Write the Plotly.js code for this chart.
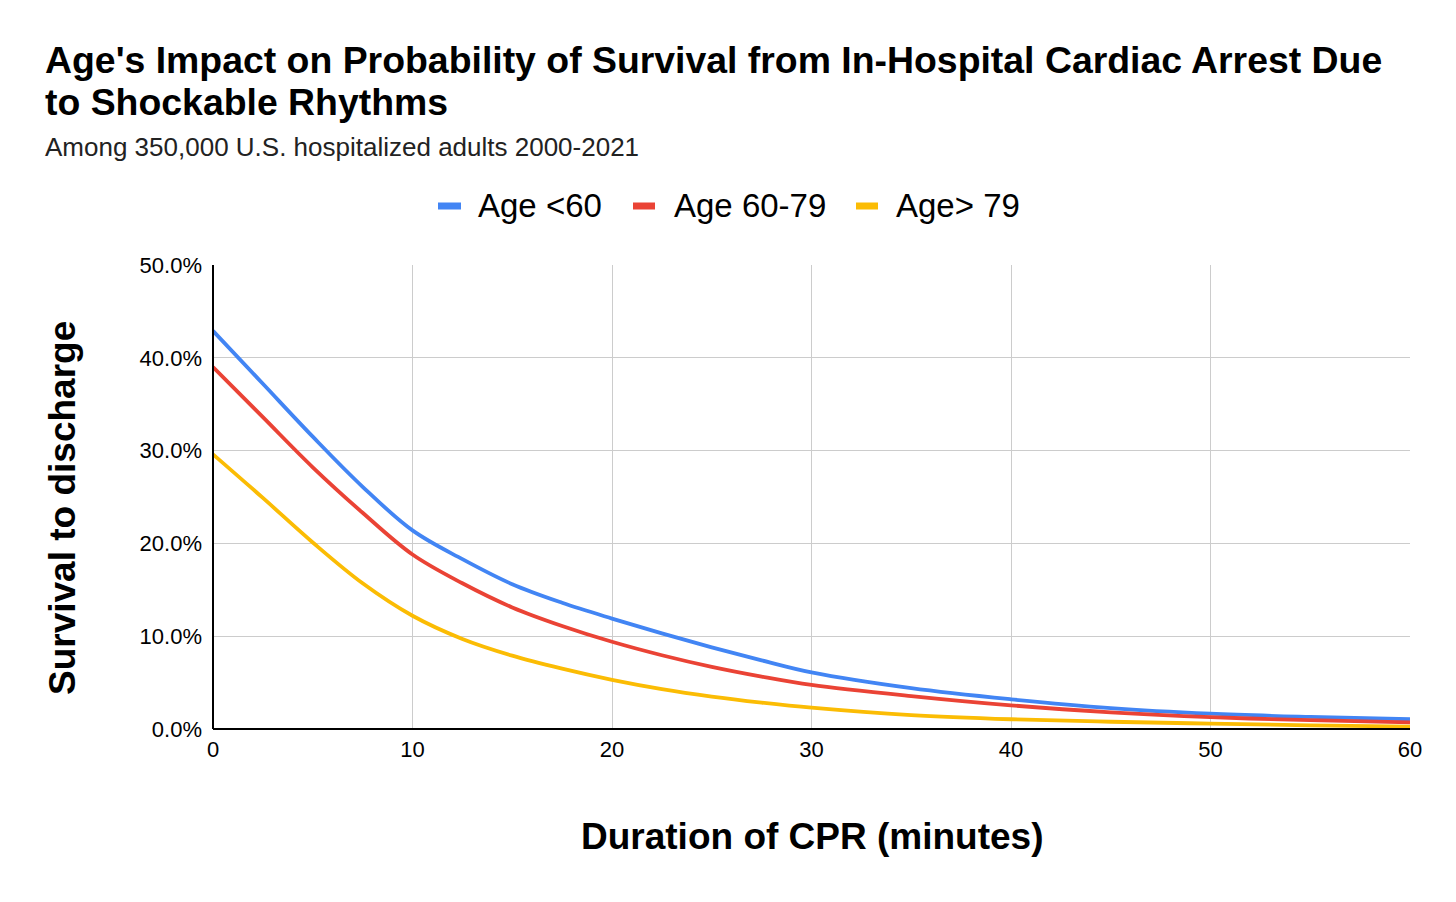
<!DOCTYPE html>
<html>
<head>
<meta charset="utf-8">
<script src="https://cdn.plot.ly/plotly-3.0.1.min.js"></script>
<style>
  html, body { margin: 0; padding: 0; background: #ffffff; }
  #chart { width: 1456px; height: 902px; }
</style>
</head>
<body>
<div id="chart"></div>
<script>
// Duration of CPR (minutes)
const minutes = [0, 2.5, 5, 7.5, 10, 12.5, 15, 17.5, 20, 22.5, 25, 27.5, 30, 35, 40, 45, 50, 55, 60];

// Survival to discharge (%) by age group
const ageUnder60 = [42.9, 37.2, 31.5, 26.1, 21.4, 18.3, 15.6, 13.6, 11.9, 10.3, 8.8, 7.4, 6.1, 4.4, 3.2, 2.25, 1.65, 1.3, 1.05];
const age60to79  = [39.0, 33.6, 28.2, 23.3, 18.8, 15.7, 13.1, 11.1, 9.4, 7.95, 6.7, 5.65, 4.75, 3.55, 2.55, 1.8, 1.28, 0.95, 0.72];
const ageOver79  = [29.6, 24.9, 20.1, 15.7, 12.2, 9.7, 7.9, 6.5, 5.3, 4.3, 3.5, 2.85, 2.3, 1.5, 1.05, 0.78, 0.58, 0.4, 0.25];

const seriesNames = ['Age <60', 'Age 60-79', 'Age> 79'];
const seriesColors = ['#4285F4', '#EA4335', '#FBBC04'];
const seriesValues = [ageUnder60, age60to79, ageOver79];

const xTicks = [0, 10, 20, 30, 40, 50, 60];
const yTicks = [0, 10, 20, 30, 40, 50];

const FONT = '"Liberation Sans", Arial, Helvetica, sans-serif';

// Page geometry of the plotting area (pixels)
const W = 1456, H = 902;
const M = { l: 213, r: 46, t: 265, b: 173 };
const PW = W - M.l - M.r, PH = H - M.t - M.b;
const px = x => (x - M.l) / PW;          // page x -> paper x
const py = y => (H - M.b - y) / PH;      // page y -> paper y

const traces = seriesValues.map((vals, i) => ({
  type: 'scatter',
  mode: 'lines',
  name: seriesNames[i],
  x: minutes,
  y: vals,
  line: { color: seriesColors[i], width: 3.8, shape: 'spline', smoothing: 1 },
  showlegend: false,
  hovertemplate: '%{x} min: %{y:.1f}%<extra>' + seriesNames[i] + '</extra>'
}));

// Legend: short thick swatches followed by the series names
const legendSwatchX = [[438, 461], [633, 655], [856, 878]];
const legendTextX = [476, 672, 894];
const legendY = 206;

const legendShapes = seriesNames.map((n, i) => ({
  type: 'rect', xref: 'paper', yref: 'paper',
  x0: px(legendSwatchX[i][0]), x1: px(legendSwatchX[i][1]),
  y0: py(legendY + 3.5), y1: py(legendY - 3.5),
  fillcolor: seriesColors[i], line: { width: 0 }
}));

const legendLabels = seriesNames.map((n, i) => ({
  text: n, xref: 'paper', yref: 'paper',
  x: px(legendTextX[i]), y: py(legendY),
  xanchor: 'left', yanchor: 'middle', showarrow: false,
  font: { family: FONT, size: 33, color: '#000000' }
}));

const layout = {
  width: W,
  height: H,
  paper_bgcolor: '#ffffff',
  plot_bgcolor: '#ffffff',
  margin: M,
  font: { family: FONT, color: '#000000' },
  showlegend: false,
  xaxis: {
    range: [0, 60],
    tickvals: xTicks,
    ticktext: xTicks.map(String),
    tickfont: { family: FONT, size: 22, color: '#000000' },
    showgrid: true,
    gridcolor: '#cccccc',
    gridwidth: 1.3,
    zeroline: false,
    showline: false,
    ticks: '',
    ticklabelstandoff: 5,
    automargin: false
  },
  yaxis: {
    range: [0, 50],
    tickvals: yTicks,
    ticktext: yTicks.map(v => v.toFixed(1) + '%'),
    tickfont: { family: FONT, size: 22, color: '#000000' },
    showgrid: true,
    gridcolor: '#cccccc',
    gridwidth: 1.3,
    zeroline: false,
    showline: false,
    ticks: '',
    ticklabelstandoff: 10,
    automargin: false
  },
  shapes: [
    // Solid black baseline and left axis
    { type: 'line', xref: 'paper', yref: 'paper', x0: 0, x1: 1, y0: 0, y1: 0, line: { color: '#000000', width: 2 } },
    { type: 'line', xref: 'paper', yref: 'paper', x0: 0, x1: 0, y0: 0, y1: 1, line: { color: '#000000', width: 2 } }
  ].concat(legendShapes),
  annotations: [
    {
      text: "<b>Age's Impact on Probability of Survival from In-Hospital Cardiac Arrest Due</b>",
      xref: 'paper', yref: 'paper', x: px(43), y: py(37),
      xanchor: 'left', yanchor: 'top', align: 'left', showarrow: false,
      font: { family: FONT, size: 37.4, color: '#000000' }
    },
    {
      text: '<b>to Shockable Rhythms</b>',
      xref: 'paper', yref: 'paper', x: px(43), y: py(79),
      xanchor: 'left', yanchor: 'top', align: 'left', showarrow: false,
      font: { family: FONT, size: 37.4, color: '#000000' }
    },
    {
      text: 'Among 350,000 U.S. hospitalized adults 2000-2021',
      xref: 'paper', yref: 'paper', x: px(43), y: py(130),
      xanchor: 'left', yanchor: 'top', align: 'left', showarrow: false,
      font: { family: FONT, size: 26, color: '#222222' }
    },
    {
      text: '<b>Duration of CPR (minutes)</b>',
      xref: 'paper', yref: 'paper', x: px(812), y: py(814),
      xanchor: 'center', yanchor: 'top', showarrow: false,
      font: { family: FONT, size: 37, color: '#000000' }
    },
    {
      text: '<b>Survival to discharge</b>',
      xref: 'paper', yref: 'paper', x: px(62), y: py(508),
      xanchor: 'center', yanchor: 'middle', textangle: -90, showarrow: false,
      font: { family: FONT, size: 37, color: '#000000' }
    }
  ].concat(legendLabels)
};

Plotly.newPlot('chart', traces, layout, { displayModeBar: false });
</script>
</body>
</html>
